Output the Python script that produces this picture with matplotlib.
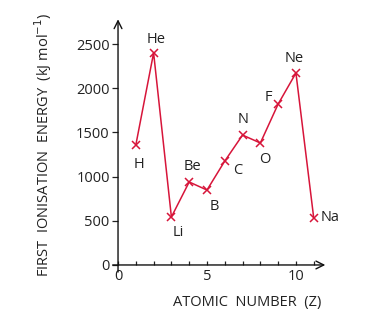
import matplotlib
matplotlib.use("Agg")
import matplotlib.pyplot as plt

elements = ["H", "He", "Li", "Be", "B", "C", "N", "O", "F", "Ne", "Na"]
atomic_number = [1, 2, 3, 4, 5, 6, 7, 8, 9, 10, 11]
energy = [1357, 2400, 543, 939, 848, 1176, 1470, 1380, 1821, 2172, 532]
# label offsets in points (dx, dy)
offsets = [(2, -14), (1.5, 9.5), (5, -11), (2, 11.5), (5, -12), (9, -6.5),
           (0, 11.5), (3.5, -12), (-7, 4.5), (-1.5, 10.5), (11.5, 0)]

red = "#d7153a"
plt.rcParams["font.family"] = ["Open Sans", "DejaVu Sans"]

fig = plt.figure(figsize=(3.76, 3.13), dpi=100)
ax = fig.add_axes([0.2997, 0.1252, 0.582, 0.8188])
ax.set_xlim(-0.3, 12)
ax.set_ylim(-100, 2800)

ax.plot(atomic_number, energy, color=red, lw=1.1, marker="x", ms=6, mew=1.1)
for el, x, y, (dx, dy) in zip(elements, atomic_number, energy, offsets):
    ax.annotate(el, (x, y), xytext=(dx, dy), textcoords="offset points",
                ha="center", va="center", fontsize=10.5, color="#222222")

for s in ax.spines.values():
    s.set_visible(False)
ax.spines["left"].set_position(("data", 0))
ax.spines["bottom"].set_position(("data", 0))

ax.annotate("", xy=(0, 2780), xytext=(0, -80),
            arrowprops=dict(arrowstyle="->", lw=1.0, color="#111111",
                            mutation_scale=14, shrinkA=0, shrinkB=0))
ax.annotate("", xy=(11.65, 0), xytext=(-0.3, 0),
            arrowprops=dict(arrowstyle="->", lw=1.0, color="#111111",
                            mutation_scale=14, shrinkA=0, shrinkB=0))

ax.set_yticks([0, 500, 1000, 1500, 2000, 2500])
ax.set_xticks([0, 5, 10])
ax.set_xticks(range(1, 12), minor=True)
ax.tick_params(axis="y", direction="out", length=4, width=0.9, labelsize=10.5,
               colors="#222222", pad=2)
ax.tick_params(axis="x", which="both", direction="in", length=3, width=0.9,
               labelsize=10.5, colors="#222222", pad=3)

fig.text(0.658, 0.035, "ATOMIC  NUMBER  (Z)", ha="center", va="center",
         fontsize=10.5, color="#222222")
fig.text(0.115, 0.537, "FIRST  IONISATION  ENERGY  (kJ mol$^{-1}$)",
         rotation=90, ha="center", va="center", fontsize=10.5, color="#222222")

fig.savefig("out.png", dpi=100)
